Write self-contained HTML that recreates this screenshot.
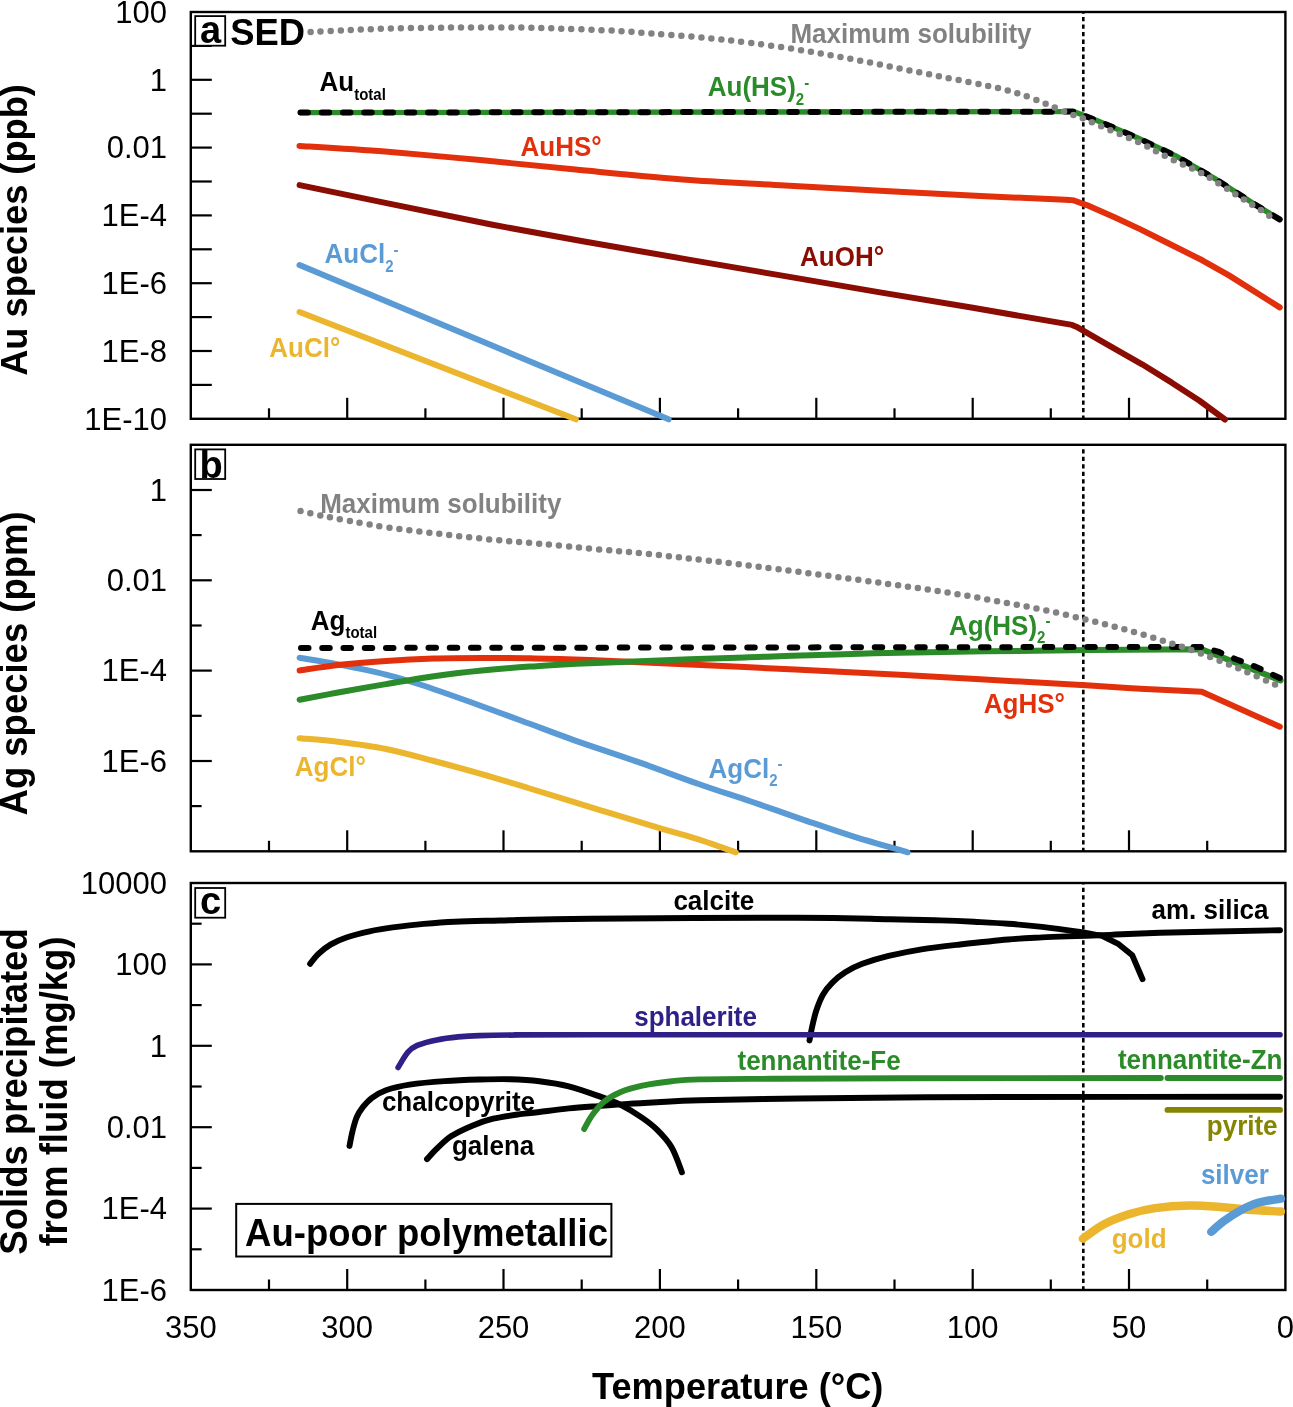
<!DOCTYPE html>
<html><head><meta charset="utf-8"><title>Au and Ag species vs temperature</title>
<style>
html,body{margin:0;padding:0;background:#fff;}
body{width:1293px;height:1407px;overflow:hidden;}
svg{display:block;font-family:'Liberation Sans', Arial, Helvetica, sans-serif;}
</style></head>
<body>
<svg width="1293" height="1407" viewBox="0 0 1293 1407">
<rect width="1293" height="1407" fill="#fff"/>
<rect x="190.8" y="12" width="1094.6" height="406.8" fill="none" stroke="#000" stroke-width="2.4"/>
<line x1="1207.2" y1="418.8" x2="1207.2" y2="408.3" stroke="#000" stroke-width="2.2"/>
<line x1="1129" y1="418.8" x2="1129" y2="397.8" stroke="#000" stroke-width="2.2"/>
<line x1="1050.8" y1="418.8" x2="1050.8" y2="408.3" stroke="#000" stroke-width="2.2"/>
<line x1="972.7" y1="418.8" x2="972.7" y2="397.8" stroke="#000" stroke-width="2.2"/>
<line x1="894.5" y1="418.8" x2="894.5" y2="408.3" stroke="#000" stroke-width="2.2"/>
<line x1="816.3" y1="418.8" x2="816.3" y2="397.8" stroke="#000" stroke-width="2.2"/>
<line x1="738.1" y1="418.8" x2="738.1" y2="408.3" stroke="#000" stroke-width="2.2"/>
<line x1="659.9" y1="418.8" x2="659.9" y2="397.8" stroke="#000" stroke-width="2.2"/>
<line x1="581.7" y1="418.8" x2="581.7" y2="408.3" stroke="#000" stroke-width="2.2"/>
<line x1="503.5" y1="418.8" x2="503.5" y2="397.8" stroke="#000" stroke-width="2.2"/>
<line x1="425.4" y1="418.8" x2="425.4" y2="408.3" stroke="#000" stroke-width="2.2"/>
<line x1="347.2" y1="418.8" x2="347.2" y2="397.8" stroke="#000" stroke-width="2.2"/>
<line x1="269" y1="418.8" x2="269" y2="408.3" stroke="#000" stroke-width="2.2"/>
<line x1="190.8" y1="384.9" x2="211.8" y2="384.9" stroke="#000" stroke-width="2.2"/>
<line x1="190.8" y1="351" x2="211.8" y2="351" stroke="#000" stroke-width="2.2"/>
<line x1="190.8" y1="317.1" x2="211.8" y2="317.1" stroke="#000" stroke-width="2.2"/>
<line x1="190.8" y1="283.2" x2="211.8" y2="283.2" stroke="#000" stroke-width="2.2"/>
<line x1="190.8" y1="249.3" x2="211.8" y2="249.3" stroke="#000" stroke-width="2.2"/>
<line x1="190.8" y1="215.4" x2="211.8" y2="215.4" stroke="#000" stroke-width="2.2"/>
<line x1="190.8" y1="181.5" x2="211.8" y2="181.5" stroke="#000" stroke-width="2.2"/>
<line x1="190.8" y1="147.6" x2="211.8" y2="147.6" stroke="#000" stroke-width="2.2"/>
<line x1="190.8" y1="113.7" x2="211.8" y2="113.7" stroke="#000" stroke-width="2.2"/>
<line x1="190.8" y1="79.8" x2="211.8" y2="79.8" stroke="#000" stroke-width="2.2"/>
<line x1="190.8" y1="45.9" x2="211.8" y2="45.9" stroke="#000" stroke-width="2.2"/>
<rect x="190.8" y="444.8" width="1094.6" height="406.5" fill="none" stroke="#000" stroke-width="2.4"/>
<line x1="1207.2" y1="851.3" x2="1207.2" y2="840.8" stroke="#000" stroke-width="2.2"/>
<line x1="1129" y1="851.3" x2="1129" y2="830.3" stroke="#000" stroke-width="2.2"/>
<line x1="1050.8" y1="851.3" x2="1050.8" y2="840.8" stroke="#000" stroke-width="2.2"/>
<line x1="972.7" y1="851.3" x2="972.7" y2="830.3" stroke="#000" stroke-width="2.2"/>
<line x1="894.5" y1="851.3" x2="894.5" y2="840.8" stroke="#000" stroke-width="2.2"/>
<line x1="816.3" y1="851.3" x2="816.3" y2="830.3" stroke="#000" stroke-width="2.2"/>
<line x1="738.1" y1="851.3" x2="738.1" y2="840.8" stroke="#000" stroke-width="2.2"/>
<line x1="659.9" y1="851.3" x2="659.9" y2="830.3" stroke="#000" stroke-width="2.2"/>
<line x1="581.7" y1="851.3" x2="581.7" y2="840.8" stroke="#000" stroke-width="2.2"/>
<line x1="503.5" y1="851.3" x2="503.5" y2="830.3" stroke="#000" stroke-width="2.2"/>
<line x1="425.4" y1="851.3" x2="425.4" y2="840.8" stroke="#000" stroke-width="2.2"/>
<line x1="347.2" y1="851.3" x2="347.2" y2="830.3" stroke="#000" stroke-width="2.2"/>
<line x1="269" y1="851.3" x2="269" y2="840.8" stroke="#000" stroke-width="2.2"/>
<line x1="190.8" y1="806.1" x2="201.6" y2="806.1" stroke="#000" stroke-width="2.2"/>
<line x1="190.8" y1="761" x2="211.8" y2="761" stroke="#000" stroke-width="2.2"/>
<line x1="190.8" y1="715.8" x2="201.6" y2="715.8" stroke="#000" stroke-width="2.2"/>
<line x1="190.8" y1="670.6" x2="211.8" y2="670.6" stroke="#000" stroke-width="2.2"/>
<line x1="190.8" y1="625.5" x2="201.6" y2="625.5" stroke="#000" stroke-width="2.2"/>
<line x1="190.8" y1="580.3" x2="211.8" y2="580.3" stroke="#000" stroke-width="2.2"/>
<line x1="190.8" y1="535.1" x2="201.6" y2="535.1" stroke="#000" stroke-width="2.2"/>
<line x1="190.8" y1="490" x2="211.8" y2="490" stroke="#000" stroke-width="2.2"/>
<rect x="190.8" y="883" width="1094.6" height="407" fill="none" stroke="#000" stroke-width="2.4"/>
<line x1="1207.2" y1="1290" x2="1207.2" y2="1279.5" stroke="#000" stroke-width="2.2"/>
<line x1="1129" y1="1290" x2="1129" y2="1269" stroke="#000" stroke-width="2.2"/>
<line x1="1050.8" y1="1290" x2="1050.8" y2="1279.5" stroke="#000" stroke-width="2.2"/>
<line x1="972.7" y1="1290" x2="972.7" y2="1269" stroke="#000" stroke-width="2.2"/>
<line x1="894.5" y1="1290" x2="894.5" y2="1279.5" stroke="#000" stroke-width="2.2"/>
<line x1="816.3" y1="1290" x2="816.3" y2="1269" stroke="#000" stroke-width="2.2"/>
<line x1="738.1" y1="1290" x2="738.1" y2="1279.5" stroke="#000" stroke-width="2.2"/>
<line x1="659.9" y1="1290" x2="659.9" y2="1269" stroke="#000" stroke-width="2.2"/>
<line x1="581.7" y1="1290" x2="581.7" y2="1279.5" stroke="#000" stroke-width="2.2"/>
<line x1="503.5" y1="1290" x2="503.5" y2="1269" stroke="#000" stroke-width="2.2"/>
<line x1="425.4" y1="1290" x2="425.4" y2="1279.5" stroke="#000" stroke-width="2.2"/>
<line x1="347.2" y1="1290" x2="347.2" y2="1269" stroke="#000" stroke-width="2.2"/>
<line x1="269" y1="1290" x2="269" y2="1279.5" stroke="#000" stroke-width="2.2"/>
<line x1="190.8" y1="1249.3" x2="201.6" y2="1249.3" stroke="#000" stroke-width="2.2"/>
<line x1="190.8" y1="1208.6" x2="211.8" y2="1208.6" stroke="#000" stroke-width="2.2"/>
<line x1="190.8" y1="1167.9" x2="201.6" y2="1167.9" stroke="#000" stroke-width="2.2"/>
<line x1="190.8" y1="1127.2" x2="211.8" y2="1127.2" stroke="#000" stroke-width="2.2"/>
<line x1="190.8" y1="1086.5" x2="201.6" y2="1086.5" stroke="#000" stroke-width="2.2"/>
<line x1="190.8" y1="1045.8" x2="211.8" y2="1045.8" stroke="#000" stroke-width="2.2"/>
<line x1="190.8" y1="1005.1" x2="201.6" y2="1005.1" stroke="#000" stroke-width="2.2"/>
<line x1="190.8" y1="964.4" x2="211.8" y2="964.4" stroke="#000" stroke-width="2.2"/>
<line x1="190.8" y1="923.7" x2="201.6" y2="923.7" stroke="#000" stroke-width="2.2"/>
<text transform="translate(167 429.5) scale(1 1.04)" font-size="31" fill="#000" font-weight="normal" text-anchor="end">1E-10</text>
<text transform="translate(167 361.7) scale(1 1.04)" font-size="31" fill="#000" font-weight="normal" text-anchor="end">1E-8</text>
<text transform="translate(167 293.9) scale(1 1.04)" font-size="31" fill="#000" font-weight="normal" text-anchor="end">1E-6</text>
<text transform="translate(167 226.1) scale(1 1.04)" font-size="31" fill="#000" font-weight="normal" text-anchor="end">1E-4</text>
<text transform="translate(167 158.3) scale(1 1.04)" font-size="31" fill="#000" font-weight="normal" text-anchor="end">0.01</text>
<text transform="translate(167 90.5) scale(1 1.04)" font-size="31" fill="#000" font-weight="normal" text-anchor="end">1</text>
<text transform="translate(167 22.7) scale(1 1.04)" font-size="31" fill="#000" font-weight="normal" text-anchor="end">100</text>
<text transform="translate(167 771.7) scale(1 1.04)" font-size="31" fill="#000" font-weight="normal" text-anchor="end">1E-6</text>
<text transform="translate(167 681.3) scale(1 1.04)" font-size="31" fill="#000" font-weight="normal" text-anchor="end">1E-4</text>
<text transform="translate(167 591) scale(1 1.04)" font-size="31" fill="#000" font-weight="normal" text-anchor="end">0.01</text>
<text transform="translate(167 500.7) scale(1 1.04)" font-size="31" fill="#000" font-weight="normal" text-anchor="end">1</text>
<text transform="translate(167 1300.7) scale(1 1.04)" font-size="31" fill="#000" font-weight="normal" text-anchor="end">1E-6</text>
<text transform="translate(167 1219.3) scale(1 1.04)" font-size="31" fill="#000" font-weight="normal" text-anchor="end">1E-4</text>
<text transform="translate(167 1137.9) scale(1 1.04)" font-size="31" fill="#000" font-weight="normal" text-anchor="end">0.01</text>
<text transform="translate(167 1056.5) scale(1 1.04)" font-size="31" fill="#000" font-weight="normal" text-anchor="end">1</text>
<text transform="translate(167 975.1) scale(1 1.04)" font-size="31" fill="#000" font-weight="normal" text-anchor="end">100</text>
<text transform="translate(167 893.7) scale(1 1.04)" font-size="31" fill="#000" font-weight="normal" text-anchor="end">10000</text>
<text transform="translate(1285.4 1338.3) scale(1 1.04)" font-size="31" fill="#000" font-weight="normal" text-anchor="middle">0</text>
<text transform="translate(1129 1338.3) scale(1 1.04)" font-size="31" fill="#000" font-weight="normal" text-anchor="middle">50</text>
<text transform="translate(972.7 1338.3) scale(1 1.04)" font-size="31" fill="#000" font-weight="normal" text-anchor="middle">100</text>
<text transform="translate(816.3 1338.3) scale(1 1.04)" font-size="31" fill="#000" font-weight="normal" text-anchor="middle">150</text>
<text transform="translate(659.9 1338.3) scale(1 1.04)" font-size="31" fill="#000" font-weight="normal" text-anchor="middle">200</text>
<text transform="translate(503.5 1338.3) scale(1 1.04)" font-size="31" fill="#000" font-weight="normal" text-anchor="middle">250</text>
<text transform="translate(347.2 1338.3) scale(1 1.04)" font-size="31" fill="#000" font-weight="normal" text-anchor="middle">300</text>
<text transform="translate(190.8 1338.3) scale(1 1.04)" font-size="31" fill="#000" font-weight="normal" text-anchor="middle">350</text>
<text transform="translate(737.7 1398.8) scale(1 1.04)" font-size="36.2" fill="#000" font-weight="bold" text-anchor="middle">Temperature (°C)</text>
<text transform="translate(26.5,230) rotate(-90) scale(1 1.04)" font-size="36.2" font-weight="bold" text-anchor="middle">Au species (ppb)</text>
<text transform="translate(26.5,663.4) rotate(-90) scale(1 1.04)" font-size="36.5" font-weight="bold" text-anchor="middle">Ag species (ppm)</text>
<text transform="translate(26.9,1091.5) rotate(-90) scale(1 1.04)" font-size="36.5" font-weight="bold" text-anchor="middle">Solids precipitated</text>
<text transform="translate(66.8,1091.5) rotate(-90) scale(1 1.04)" font-size="36.5" font-weight="bold" text-anchor="middle">from fluid (mg/kg)</text>
<rect x="195.2" y="16.1" width="30" height="29.6" fill="#fff" stroke="#000" stroke-width="1.8"/>
<text transform="translate(199.9 42.6) scale(1 1.04)" font-size="38" fill="#000" font-weight="bold" text-anchor="start">a</text>
<rect x="195.2" y="449.4" width="30" height="29.6" fill="#fff" stroke="#000" stroke-width="1.8"/>
<text transform="translate(199.4 477.8) scale(1 1.04)" font-size="38" fill="#000" font-weight="bold" text-anchor="start">b</text>
<rect x="195.2" y="888" width="30" height="29.7" fill="#fff" stroke="#000" stroke-width="1.8"/>
<text transform="translate(200 914.3) scale(1 1.04)" font-size="38" fill="#000" font-weight="bold" text-anchor="start">c</text>
<text transform="translate(230.2 44.9) scale(1 1.04)" font-size="36.4" fill="#000" font-weight="bold" text-anchor="start">SED</text>
<line x1="1083.3" y1="12" x2="1083.3" y2="418.8" stroke="#000" stroke-width="2.6" stroke-dasharray="4.3 3.22" stroke-dashoffset="2.5"/>
<line x1="1083.3" y1="444.8" x2="1083.3" y2="851.3" stroke="#000" stroke-width="2.6" stroke-dasharray="4.3 3.22" stroke-dashoffset="3.1"/>
<line x1="1083.3" y1="883" x2="1083.3" y2="1290" stroke="#000" stroke-width="2.6" stroke-dasharray="4.3 3.22" stroke-dashoffset="2.8"/>
<g>
<path d="M299.5 312 L575.8 419.3" fill="none" stroke="#ebb52e" stroke-width="6.0" stroke-linecap="round" stroke-linejoin="round"/>
<path d="M299.5 265 L668.6 419.3" fill="none" stroke="#5b9bd5" stroke-width="6.0" stroke-linecap="round" stroke-linejoin="round"/>
<path d="M299.6 185.1 L387.8 203.4 L490 224.3 L582.8 241.3 L690 259.9 L777.8 274.9 L880 292.4 L972.8 307.8 L1072 324.9 L1078 327.6 L1101.8 341.3 L1142.1 364.3 L1171.4 382.4 L1199.2 400.5 L1225 419.5" fill="none" stroke="#8a0c02" stroke-width="6.0" stroke-linecap="round" stroke-linejoin="round"/>
<path d="M299.5 145.9 C313.8 146.8 355 149.2 385.1 151.6 C415.2 154 448.5 157.1 480.2 160.1 C511.9 163.1 540.4 166.3 575.4 169.6 C610.4 172.9 655 177.4 690 180 C725 182.6 753.4 183.6 785.1 185.4 C816.8 187.2 848.5 189.1 880.2 190.8 C911.9 192.5 945.4 194.4 975.4 195.8 C1005.4 197.2 1043.7 198.7 1060 199.4 C1076.3 200.2 1071.1 200.2 1073.3 200.3 L1086.7 205.1 L1113.4 216.7 L1140 229.1 L1166.7 242.5 L1202.3 260.3 L1229 275.4 L1279.7 307.4" fill="none" stroke="#e3300c" stroke-width="6.0" stroke-linecap="round" stroke-linejoin="round"/>
<path d="M300.5 112.6 L1073.8 111.6 L1098 120.9 L1136.7 137.4 L1175.3 155.7 L1214 178 L1252.7 203.1 L1279.8 219.5" fill="none" stroke="#2a8b28" stroke-width="5.4" stroke-linecap="round" stroke-linejoin="round"/>
<path d="M300.5 112.6 L1073.8 111.6 L1098 120.9 L1136.7 137.4 L1175.3 155.7 L1214 178 L1252.7 203.1 L1279.8 219.5" fill="none" stroke="#000" stroke-width="6.0" stroke-linecap="round" stroke-linejoin="round" stroke-dasharray="7.5 13.75"/>
<path d="M310.2 32 C316.8 31.7 336.8 30.6 350 30 C363.2 29.4 376.4 29 389.7 28.6 C403 28.2 416.6 28 430 27.8 C443.4 27.6 455 27.4 470 27.4 C485 27.4 506.6 27.5 520 27.6 C533.4 27.8 535.7 27.8 550.6 28.3 C565.5 28.8 592.8 29.7 609.4 30.5 C626 31.3 635.1 32.2 650 33.3 C664.9 34.4 682 35.7 699 37.3 C716 38.9 732.8 40.5 751.9 43 C771 45.5 793.1 48.8 813.7 52.2 C834.3 55.7 855 59.7 875.6 63.7 C896.2 67.7 916.9 71.9 937.5 76 C958.1 80.1 984 84.8 999.4 88.4 C1014.8 92 1020.8 94.3 1030 97.5 C1039.2 100.7 1047.3 104.6 1054.5 107.5 C1061.7 110.4 1068.2 113.1 1072.9 114.9 C1077.6 116.7 1077.7 116.3 1082.5 118.2 C1087.3 120.1 1092.1 122.4 1101.5 126.4 C1110.9 130.5 1127.6 137.2 1139 142.5 C1150.4 147.8 1159.3 153.2 1170 158.5 C1180.7 163.8 1192.2 167.9 1203.4 174.1 C1214.6 180.2 1227.1 189.1 1237.2 195.4 C1247.3 201.8 1258.3 208.3 1264.3 212.2 C1270.3 216.1 1271.5 217.5 1273 218.6" fill="none" stroke="#828282" stroke-width="6.5" stroke-linecap="round" stroke-linejoin="round" stroke-dasharray="0 10.03" stroke-dashoffset="-0.5"/>
</g>
<text transform="translate(319.5 90.9) scale(1 1.04)" font-size="26" fill="#000" font-weight="bold"><tspan y="0">Au</tspan><tspan font-size="15" y="8.4">total</tspan></text>
<text transform="translate(707.8 96) scale(1 1.04)" font-size="26" fill="#2a8b28" font-weight="bold"><tspan y="0">Au(HS)</tspan><tspan font-size="15" y="8.4">2</tspan><tspan font-size="15" y="-8">-</tspan></text>
<text transform="translate(520.6 155.6) scale(1 1.04)" font-size="26" fill="#e3300c" font-weight="bold" text-anchor="start">AuHS°</text>
<text transform="translate(800.1 265.6) scale(1 1.04)" font-size="26" fill="#8a0c02" font-weight="bold" text-anchor="start">AuOH°</text>
<text transform="translate(324.6 263.3) scale(1 1.04)" font-size="26" fill="#5b9bd5" font-weight="bold"><tspan y="0">AuCl</tspan><tspan font-size="15" y="8.4">2</tspan><tspan font-size="15" y="-8">-</tspan></text>
<text transform="translate(269.3 357.1) scale(1 1.04)" font-size="26" fill="#ebb52e" font-weight="bold" text-anchor="start">AuCl°</text>
<text transform="translate(790.4 42.7) scale(1 1.04)" font-size="26" fill="#828282" font-weight="bold" text-anchor="start">Maximum solubility</text>
<g>
<path d="M299.6 738.2 C306 738.8 323.6 740 338 741.8 C352.4 743.6 369.9 745.8 385.9 749 C401.9 752.2 417.9 756.8 433.9 761 C449.9 765.2 465.8 769.5 481.8 774.1 C497.8 778.7 510.1 782.5 529.8 788.5 C549.5 794.5 578.1 803.4 600 810.1 C621.9 816.8 644.5 823.7 661.2 828.6 C677.9 833.5 687.6 835.8 700 839.8 C712.4 843.8 729.8 850.2 735.7 852.3" fill="none" stroke="#ebb52e" stroke-width="6.0" stroke-linecap="round" stroke-linejoin="round"/>
<path d="M299.6 657.8 C306 658.9 323.6 661.6 338 664.4 C352.4 667.2 372.2 671.2 385.9 674.6 C399.6 678 405.8 679.9 420 684.5 C434.2 689.1 454 696.2 471 702.3 C488 708.4 505.1 714.8 522.1 721 C539.1 727.2 553.5 732.8 573.1 739.8 C592.8 746.8 618.9 755.2 640 762.7 C661.1 770.2 681.5 778 700 784.5 C718.5 791 734 795.7 751 801.5 C768 807.3 785.1 813.5 802.1 819.3 C819.1 825.1 835.5 830.9 853.1 836.4 C870.7 841.9 898.5 849.6 907.6 852.3" fill="none" stroke="#5b9bd5" stroke-width="6.0" stroke-linecap="round" stroke-linejoin="round"/>
<path d="M299.6 670.5 C306 669.6 323.6 666.6 338 665 C352.4 663.4 369.9 662 385.9 660.9 C401.9 659.8 417.9 659 433.9 658.5 C449.9 658 465.8 658 481.8 658 C497.8 658 511.8 657.9 529.8 658.3 C547.8 658.6 554.2 658.6 590 660.1 C625.8 661.6 693.1 664.7 744.7 667.1 C796.3 669.5 841.9 671.7 899.4 674.8 C956.9 677.9 1049.1 683.2 1090 685.6 C1130.9 688 1126.4 688 1145 689 C1163.6 690 1192.3 691.3 1201.8 691.8 L1279.8 726.7" fill="none" stroke="#e3300c" stroke-width="6.0" stroke-linecap="round" stroke-linejoin="round"/>
<path d="M299.6 699.7 C306 698.5 323.6 695.1 338 692.5 C352.4 689.9 369.9 686.8 385.9 684.1 C401.9 681.4 417.9 678.5 433.9 676.2 C449.9 673.9 465.8 672.1 481.8 670.5 C497.8 668.9 511.8 667.8 529.8 666.6 C547.8 665.4 554.2 664.7 590 663.2 C625.8 661.7 693.1 659.1 744.7 657.4 C796.3 655.7 841.9 654 899.4 652.8 C956.9 651.6 1039.6 650.6 1090 650 C1140.4 649.4 1183.2 649.3 1201.8 649.2 L1280.6 680.4" fill="none" stroke="#2a8b28" stroke-width="6.0" stroke-linecap="round" stroke-linejoin="round"/>
<path d="M301 648 L1201.8 646.9 L1218 651.6 L1235.9 659.3 L1255.4 666.6 L1279.8 678" fill="none" stroke="#000" stroke-width="6.0" stroke-linecap="round" stroke-linejoin="round" stroke-dasharray="7.5 13.75"/>
<path d="M299.6 510.9 C303 511.6 311.6 513.7 320 515.4 C328.4 517.1 338.3 519 349.9 521 C361.5 523 374.7 525.6 389.5 527.7 C404.3 529.8 422 531.8 438.6 533.7 C455.2 535.7 472.2 537.7 489 539.4 C505.8 541.1 521.1 542.1 539.3 543.7 C557.5 545.4 577.6 547.3 598.1 549.3 C618.6 551.2 634.4 552.4 662 555.4 C689.6 558.4 726.5 562.7 764 567.4 C801.5 572.1 860.1 580.1 887.3 583.8 C914.5 587.5 913.8 587.5 927.1 589.5 C940.4 591.5 953.6 593.5 966.9 595.7 C980.2 598 993.6 600.6 1006.7 603 C1019.8 605.4 1032.6 607.5 1045.7 610.3 C1058.8 613 1072.5 616.4 1085.5 619.5 C1098.5 622.6 1111.1 625.7 1123.9 629.2 C1136.7 632.7 1149.8 636.6 1162.5 640.6 C1175.2 644.6 1187.5 648.6 1200.2 653.3 C1212.9 657.9 1226.2 663.2 1238.8 668.5 C1251.4 673.8 1269.5 682.1 1275.7 684.8" fill="none" stroke="#828282" stroke-width="6.5" stroke-linecap="round" stroke-linejoin="round" stroke-dasharray="0 10.035" stroke-dashoffset="-1.15"/>
</g>
<text transform="translate(320.2 512.6) scale(1 1.04)" font-size="26" fill="#828282" font-weight="bold" text-anchor="start">Maximum solubility</text>
<text transform="translate(310.8 629.5) scale(1 1.04)" font-size="26" fill="#000" font-weight="bold"><tspan y="0">Ag</tspan><tspan font-size="15" y="8.4">total</tspan></text>
<text transform="translate(949 634.7) scale(1 1.04)" font-size="26" fill="#2a8b28" font-weight="bold"><tspan y="0">Ag(HS)</tspan><tspan font-size="15" y="8.4">2</tspan><tspan font-size="15" y="-8">-</tspan></text>
<text transform="translate(983.8 712.5) scale(1 1.04)" font-size="26" fill="#e3300c" font-weight="bold" text-anchor="start">AgHS°</text>
<text transform="translate(708.6 777.7) scale(1 1.04)" font-size="26" fill="#5b9bd5" font-weight="bold"><tspan y="0">AgCl</tspan><tspan font-size="15" y="8.4">2</tspan><tspan font-size="15" y="-8">-</tspan></text>
<text transform="translate(294.8 775.7) scale(1 1.04)" font-size="26" fill="#ebb52e" font-weight="bold" text-anchor="start">AgCl°</text>
<g>
<path d="M310.1 963.8 C311.5 962.1 315.1 956.9 318.6 953.7 C322.1 950.5 326.3 947.1 330.9 944.4 C335.5 941.7 339.9 939.7 346.4 937.5 C352.8 935.3 361.9 933 369.6 931.3 C377.3 929.6 383.8 928.6 392.8 927.4 C401.8 926.2 413.4 924.8 423.7 923.9 C434 923 442 922.3 454.7 921.7 C467.4 921.1 477.4 921 500 920.5 C522.5 920 540.6 919.2 590 918.7 C639.4 918.2 746.6 917.6 796.5 917.7 C846.4 917.8 865.5 918.8 889.4 919.3 C913.3 919.8 925.9 920 940 920.4 C954.1 920.8 962.6 921.2 974 921.8 C985.4 922.4 996.8 922.9 1008.1 923.8 C1019.5 924.6 1030.8 925.6 1042.1 926.9 C1053.4 928.2 1066.2 930 1076.1 931.5 C1086 933 1097.3 935 1101.6 935.7 L1118.7 944.2 L1132.3 955.3 L1142.5 979.1" fill="none" stroke="#000" stroke-width="5.9" stroke-linecap="round" stroke-linejoin="round"/>
<path d="M809.5 1040.4 C809.9 1038.5 810.6 1033.9 811.7 1028.9 C812.8 1023.9 814.4 1016.2 816.3 1010.5 C818.2 1004.8 820.3 999.3 822.9 994.7 C825.5 990.1 828.4 986.5 832.1 982.8 C835.8 979.1 840.2 975.5 845.2 972.3 C850.2 969.1 855.1 966.5 862.3 963.8 C869.5 961.1 878.7 958.3 888.6 955.9 C898.5 953.5 909.6 951.2 921.5 949.3 C933.4 947.4 945.6 946.1 960 944.5 C974.4 942.9 994.4 940.7 1008.1 939.5 C1021.8 938.3 1030.8 938 1042.1 937.4 C1053.4 936.8 1064.8 936.5 1076.1 936.1 C1087.4 935.7 1096.2 935.5 1110.2 934.9 C1124.2 934.3 1131.7 933.6 1160 932.8 C1188.3 932 1260 930.6 1280 930.2" fill="none" stroke="#000" stroke-width="5.9" stroke-linecap="round" stroke-linejoin="round"/>
<path d="M398.1 1067.5 C399.7 1065 404.7 1055.9 407.9 1052.2 C411.1 1048.5 412.4 1047.5 417.2 1045.4 C422 1043.4 430 1041.3 436.8 1039.9 C443.6 1038.5 451 1037.6 458.1 1036.9 C465.2 1036.2 469 1035.9 479.3 1035.6 C489.6 1035.3 501.6 1035.1 520 1035 C538.5 1034.9 463.3 1034.8 590 1034.8 C716.7 1034.8 1165 1034.8 1280 1034.8" fill="none" stroke="#2e2086" stroke-width="5.6" stroke-linecap="round" stroke-linejoin="round"/>
<path d="M349.5 1145.9 C350 1143.5 351.3 1136.1 352.5 1131.3 C353.7 1126.5 354.9 1121.4 356.7 1117.3 C358.4 1113.2 360.4 1110.2 363 1106.9 C365.6 1103.7 368.2 1100.6 372 1097.8 C375.8 1095 379.7 1092.4 386 1090.2 C392.3 1088 399.9 1086.1 409.6 1084.6 C419.3 1083.1 432.8 1081.9 444.4 1081.1 C456 1080.2 468.3 1079.8 479.2 1079.5 C490.1 1079.2 500 1078.9 510 1079.2 C520 1079.5 529.6 1080 539.4 1081.2 C549.2 1082.4 559 1083.8 568.8 1086.3 C578.6 1088.8 589.6 1092.8 598.2 1095.9 C606.8 1099 612.9 1101 620.2 1104.7 C627.6 1108.4 636.2 1113.7 642.3 1117.9 C648.4 1122.1 652.1 1124.8 657 1129.7 C661.9 1134.6 667.5 1140.2 671.6 1147.3 C675.8 1154.4 680.2 1168.1 681.9 1172.3" fill="none" stroke="#000" stroke-width="5.9" stroke-linecap="round" stroke-linejoin="round"/>
<path d="M427 1159.1 C428.8 1157.2 433.4 1151.8 437.5 1148 C441.6 1144.2 445.6 1139.8 451.4 1136.1 C457.2 1132.4 465.4 1128.6 472.3 1125.7 C479.2 1122.8 485.2 1120.6 493.1 1118.7 C501.1 1116.8 512.3 1115.3 520 1114.2 C527.7 1113.1 531.3 1113 539.4 1112 C547.5 1111 559 1109.4 568.8 1108.4 C578.6 1107.4 588.4 1106.8 598.2 1106.1 C608 1105.3 617.8 1104.6 627.6 1103.9 C637.4 1103.2 644.9 1102.8 657 1102.2 C669.1 1101.6 676.2 1100.9 700 1100.3 C723.8 1099.7 766.7 1099 800 1098.5 C833.3 1098 866.7 1097.8 900 1097.5 C933.3 1097.2 936.7 1097.1 1000 1097 C1063.3 1096.9 1233.3 1096.8 1280 1096.8" fill="none" stroke="#000" stroke-width="5.9" stroke-linecap="round" stroke-linejoin="round"/>
<path d="M584.2 1128.9 C585.6 1126.6 589 1119.5 592.3 1115 C595.6 1110.5 599.4 1105.5 604 1101.7 C608.6 1097.9 613.8 1094.9 620.2 1092.2 C626.6 1089.5 633.7 1087.4 642.3 1085.6 C650.9 1083.8 662 1082.2 671.6 1081.2 C681.2 1080.2 683.5 1079.8 700 1079.4 C716.5 1079 737.1 1079 770.4 1078.8 C803.7 1078.6 834.9 1078.3 900 1078.2 C965.1 1078.1 1117.3 1078 1160.8 1078" fill="none" stroke="#2a8b28" stroke-width="5.9" stroke-linecap="round" stroke-linejoin="round"/>
<path d="M1167.5 1078 L1280 1078" fill="none" stroke="#2a8b28" stroke-width="5.9" stroke-linecap="round" stroke-linejoin="round"/>
<path d="M1167.5 1109.9 L1280 1109.9" fill="none" stroke="#858502" stroke-width="5.9" stroke-linecap="round" stroke-linejoin="round"/>
<path d="M1082.8 1238.7 C1086.3 1236.3 1096.2 1228.3 1104 1224.2 C1111.8 1220.1 1121.1 1216.7 1129.6 1214 C1138.1 1211.3 1145.2 1209.5 1155.1 1208.1 C1165 1206.7 1177.8 1205.7 1189.1 1205.5 C1200.4 1205.3 1213.2 1206.5 1223.1 1207.2 C1233 1207.9 1239 1209.1 1248.7 1209.8 C1258.4 1210.5 1275.6 1211.2 1281 1211.5" fill="none" stroke="#ebb52e" stroke-width="8.4" stroke-linecap="round" stroke-linejoin="round"/>
<path d="M1211.2 1231.9 C1213.2 1230.2 1218.3 1225.2 1223.1 1221.7 C1227.9 1218.2 1234.5 1213.7 1240.2 1210.6 C1245.9 1207.5 1250.4 1205 1257.2 1203 C1264 1201 1277 1199.4 1281 1198.7" fill="none" stroke="#5b9bd5" stroke-width="8.4" stroke-linecap="round" stroke-linejoin="round"/>
</g>
<text transform="translate(673.4 909.9) scale(1 1.04)" font-size="26" fill="#000" font-weight="bold" text-anchor="start">calcite</text>
<text transform="translate(1151.5 919.4) scale(1 1.04)" font-size="26" fill="#000" font-weight="bold" text-anchor="start">am. silica</text>
<text transform="translate(634.2 1025.9) scale(1 1.04)" font-size="26" fill="#2e2086" font-weight="bold" text-anchor="start">sphalerite</text>
<text transform="translate(737.5 1069.8) scale(1 1.04)" font-size="26" fill="#2a8b28" font-weight="bold" text-anchor="start">tennantite-Fe</text>
<text transform="translate(1117.9 1068.6) scale(1 1.04)" font-size="26" fill="#2a8b28" font-weight="bold" text-anchor="start">tennantite-Zn</text>
<text transform="translate(381.9 1110.9) scale(1 1.04)" font-size="26" fill="#000" font-weight="bold" text-anchor="start">chalcopyrite</text>
<text transform="translate(451.9 1154.7) scale(1 1.04)" font-size="26" fill="#000" font-weight="bold" text-anchor="start">galena</text>
<text transform="translate(1206.8 1134.6) scale(1 1.04)" font-size="26" fill="#858502" font-weight="bold" text-anchor="start">pyrite</text>
<text transform="translate(1200.9 1183.8) scale(1 1.04)" font-size="26" fill="#5b9bd5" font-weight="bold" text-anchor="start">silver</text>
<text transform="translate(1111.7 1247.7) scale(1 1.04)" font-size="26" fill="#ebb52e" font-weight="bold" text-anchor="start">gold</text>
<rect x="236.2" y="1203.9" width="375.2" height="52.6" fill="#fff" stroke="#000" stroke-width="2"/>
<text transform="translate(245.1 1245.7) scale(1 1.04)" font-size="36.5" fill="#000" font-weight="bold" text-anchor="start">Au-poor polymetallic</text>
</svg>
</body></html>
